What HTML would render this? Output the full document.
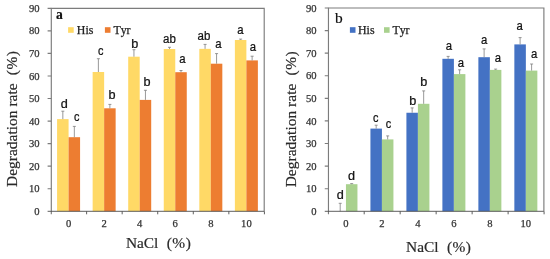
<!DOCTYPE html>
<html><head><meta charset="utf-8"><title>Degradation rate vs NaCl</title>
<style>
html,body{margin:0;padding:0;background:#fff}
svg{display:block}
text{font-kerning:none;stroke-linejoin:round}
.tk{font-family:"Liberation Serif","Noto Serif CJK SC",serif;font-size:10.6px;fill:#333;stroke:#333;stroke-width:.25px}
.lt{font-family:"Liberation Sans",sans-serif;fill:#111;stroke:#111;stroke-width:.24px}
.lg{font-family:"Liberation Serif","Noto Serif CJK SC",serif;font-size:11.9px;fill:#222;stroke:#222;stroke-width:.25px}
.pl{font-family:"Liberation Serif","Noto Serif CJK SC",serif;fill:#111;stroke:#111;stroke-width:.2px}
.xt{font-family:"Liberation Serif","Noto Serif CJK SC",serif;font-size:15.4px;fill:#2a2a2a;stroke:#2a2a2a;stroke-width:.2px}
</style></head><body>
<svg width="550" height="259" viewBox="0 0 550 259">
<rect width="550" height="259" fill="#fff"/>
<rect x="57.08" y="119.10" width="11.50" height="92.20" fill="#FFD966"/>
<path d="M62.83 119.10V111.20M61.33 111.20H64.33" stroke="#7f7f7f" stroke-width="0.8" fill="none"/>
<rect x="68.58" y="137.20" width="11.50" height="74.10" fill="#ED7D31"/>
<path d="M74.33 137.20V126.40M72.83 126.40H75.83" stroke="#7f7f7f" stroke-width="0.8" fill="none"/>
<rect x="92.64" y="72.00" width="11.50" height="139.30" fill="#FFD966"/>
<path d="M98.39 72.00V58.70M96.89 58.70H99.89" stroke="#7f7f7f" stroke-width="0.8" fill="none"/>
<rect x="104.14" y="108.30" width="11.50" height="103.00" fill="#ED7D31"/>
<path d="M109.89 108.30V104.40M108.39 104.40H111.39" stroke="#7f7f7f" stroke-width="0.8" fill="none"/>
<rect x="128.20" y="56.70" width="11.50" height="154.60" fill="#FFD966"/>
<path d="M133.95 56.70V49.70M132.45 49.70H135.45" stroke="#7f7f7f" stroke-width="0.8" fill="none"/>
<rect x="139.70" y="99.90" width="11.50" height="111.40" fill="#ED7D31"/>
<path d="M145.45 99.90V90.30M143.95 90.30H146.95" stroke="#7f7f7f" stroke-width="0.8" fill="none"/>
<rect x="163.76" y="49.00" width="11.50" height="162.30" fill="#FFD966"/>
<path d="M169.51 49.00V47.30M168.01 47.30H171.01" stroke="#7f7f7f" stroke-width="0.8" fill="none"/>
<rect x="175.26" y="72.20" width="11.50" height="139.10" fill="#ED7D31"/>
<path d="M181.01 72.20V70.50M179.51 70.50H182.51" stroke="#7f7f7f" stroke-width="0.8" fill="none"/>
<rect x="199.32" y="48.85" width="11.50" height="162.45" fill="#FFD966"/>
<path d="M205.07 48.85V44.40M203.57 44.40H206.57" stroke="#7f7f7f" stroke-width="0.8" fill="none"/>
<rect x="210.82" y="63.70" width="11.50" height="147.60" fill="#ED7D31"/>
<path d="M216.57 63.70V53.60M215.07 53.60H218.07" stroke="#7f7f7f" stroke-width="0.8" fill="none"/>
<rect x="234.88" y="40.00" width="11.50" height="171.30" fill="#FFD966"/>
<path d="M240.63 40.00V39.10M239.13 39.10H242.13" stroke="#7f7f7f" stroke-width="0.8" fill="none"/>
<rect x="246.38" y="60.40" width="11.50" height="150.90" fill="#ED7D31"/>
<path d="M252.13 60.40V56.20M250.63 56.20H253.63" stroke="#7f7f7f" stroke-width="0.8" fill="none"/>
<path d="M51.30 214.30V8.30H264.21V211.30" stroke="#7c7c7c" stroke-width="1.15" fill="none"/>
<path d="M47.60 188.74H51.30M47.60 166.19H51.30M47.60 143.63H51.30M47.60 121.08H51.30M47.60 98.52H51.30M47.60 75.97H51.30M47.60 53.41H51.30M47.60 30.86H51.30M47.60 8.30H51.30" stroke="#7c7c7c" stroke-width="1.15" fill="none"/>
<path d="M47.60 211.30H264.21M86.61 211.30V214.30M122.17 211.30V214.30M157.73 211.30V214.30M193.29 211.30V214.30M228.85 211.30V214.30M264.41 211.30V214.30" stroke="#4d4d4d" stroke-width="0.9" fill="none"/>
<text x="39.50" y="214.90" text-anchor="end" class="tk">0</text>
<text x="39.50" y="192.34" text-anchor="end" class="tk">10</text>
<text x="39.50" y="169.79" text-anchor="end" class="tk">20</text>
<text x="39.50" y="147.23" text-anchor="end" class="tk">30</text>
<text x="39.50" y="124.68" text-anchor="end" class="tk">40</text>
<text x="39.50" y="102.12" text-anchor="end" class="tk">50</text>
<text x="39.50" y="79.57" text-anchor="end" class="tk">60</text>
<text x="39.50" y="57.01" text-anchor="end" class="tk">70</text>
<text x="39.50" y="34.46" text-anchor="end" class="tk">80</text>
<text x="39.50" y="11.90" text-anchor="end" class="tk">90</text>
<text x="68.58" y="227.3" text-anchor="middle" class="tk">0</text>
<text x="104.14" y="227.3" text-anchor="middle" class="tk">2</text>
<text x="139.70" y="227.3" text-anchor="middle" class="tk">4</text>
<text x="175.26" y="227.3" text-anchor="middle" class="tk">6</text>
<text x="210.82" y="227.3" text-anchor="middle" class="tk">8</text>
<text x="246.38" y="227.3" text-anchor="middle" class="tk">10</text>
<text transform="translate(64.30,107.80) scale(1.02,1)" text-anchor="middle" class="lt" font-size="12.4">d</text>
<text transform="translate(76.60,121.30) scale(0.9,1)" text-anchor="middle" class="lt" font-size="12.1">c</text>
<text transform="translate(100.60,54.60) scale(0.9,1)" text-anchor="middle" class="lt" font-size="12.1">c</text>
<text transform="translate(112.10,98.60) scale(1.02,1)" text-anchor="middle" class="lt" font-size="12.4">b</text>
<text transform="translate(134.70,47.60) scale(1.02,1)" text-anchor="middle" class="lt" font-size="12.4">b</text>
<text transform="translate(147.10,86.40) scale(1.02,1)" text-anchor="middle" class="lt" font-size="12.4">b</text>
<text transform="translate(169.50,42.50) scale(0.92,1)" text-anchor="middle" class="lt" font-size="12.5">ab</text>
<text transform="translate(182.40,63.30) scale(0.9,1)" text-anchor="middle" class="lt" font-size="12.6">a</text>
<text transform="translate(203.90,40.00) scale(0.92,1)" text-anchor="middle" class="lt" font-size="12.5">ab</text>
<text transform="translate(218.50,47.70) scale(0.9,1)" text-anchor="middle" class="lt" font-size="12.6">a</text>
<text transform="translate(240.50,34.40) scale(0.9,1)" text-anchor="middle" class="lt" font-size="12.6">a</text>
<text transform="translate(252.80,51.30) scale(0.9,1)" text-anchor="middle" class="lt" font-size="12.6">a</text>
<text x="56" y="19" font-weight="bold" font-size="13.6" class="pl">a</text>
<rect x="68.1" y="27.2" width="5.6" height="5.6" fill="#FFD966"/><text x="76.8" y="33.55" class="lg">His</text>
<rect x="104.9" y="27.2" width="5.6" height="5.6" fill="#ED7D31"/><text x="113.4" y="33.55" class="lg">Tyr</text>
<path d="M340.20 211.30V203.30M338.70 203.30H341.70" stroke="#7f7f7f" stroke-width="0.8" fill="none"/>
<rect x="345.95" y="184.20" width="11.50" height="27.10" fill="#A9D18E"/>
<path d="M351.70 184.20V183.60M350.20 183.60H353.20" stroke="#7f7f7f" stroke-width="0.8" fill="none"/>
<rect x="370.43" y="128.60" width="11.50" height="82.70" fill="#4472C4"/>
<path d="M376.18 128.60V125.20M374.68 125.20H377.68" stroke="#7f7f7f" stroke-width="0.8" fill="none"/>
<rect x="381.93" y="139.40" width="11.50" height="71.90" fill="#A9D18E"/>
<path d="M387.68 139.40V135.90M386.18 135.90H389.18" stroke="#7f7f7f" stroke-width="0.8" fill="none"/>
<rect x="406.41" y="112.75" width="11.50" height="98.55" fill="#4472C4"/>
<path d="M412.16 112.75V107.90M410.66 107.90H413.66" stroke="#7f7f7f" stroke-width="0.8" fill="none"/>
<rect x="417.91" y="103.80" width="11.50" height="107.50" fill="#A9D18E"/>
<path d="M423.66 103.80V90.90M422.16 90.90H425.16" stroke="#7f7f7f" stroke-width="0.8" fill="none"/>
<rect x="442.39" y="58.80" width="11.50" height="152.50" fill="#4472C4"/>
<path d="M448.14 58.80V56.40M446.64 56.40H449.64" stroke="#7f7f7f" stroke-width="0.8" fill="none"/>
<rect x="453.89" y="74.10" width="11.50" height="137.20" fill="#A9D18E"/>
<path d="M459.64 74.10V69.80M458.14 69.80H461.14" stroke="#7f7f7f" stroke-width="0.8" fill="none"/>
<rect x="478.37" y="57.20" width="11.50" height="154.10" fill="#4472C4"/>
<path d="M484.12 57.20V48.90M482.62 48.90H485.62" stroke="#7f7f7f" stroke-width="0.8" fill="none"/>
<rect x="489.87" y="69.90" width="11.50" height="141.40" fill="#A9D18E"/>
<path d="M495.62 69.90V69.10M494.12 69.10H497.12" stroke="#7f7f7f" stroke-width="0.8" fill="none"/>
<rect x="514.35" y="44.40" width="11.50" height="166.90" fill="#4472C4"/>
<path d="M520.10 44.40V37.60M518.60 37.60H521.60" stroke="#7f7f7f" stroke-width="0.8" fill="none"/>
<rect x="525.85" y="70.60" width="11.50" height="140.70" fill="#A9D18E"/>
<path d="M531.60 70.60V64.00M530.10 64.00H533.10" stroke="#7f7f7f" stroke-width="0.8" fill="none"/>
<path d="M328.46 214.30V8.00H543.89V211.30" stroke="#7c7c7c" stroke-width="1.15" fill="none"/>
<path d="M324.76 188.71H328.46M324.76 166.12H328.46M324.76 143.53H328.46M324.76 120.94H328.46M324.76 98.36H328.46M324.76 75.77H328.46M324.76 53.18H328.46M324.76 30.59H328.46M324.76 8.00H328.46" stroke="#7c7c7c" stroke-width="1.15" fill="none"/>
<path d="M324.76 211.30H543.89M364.19 211.30V214.30M400.17 211.30V214.30M436.15 211.30V214.30M472.13 211.30V214.30M508.11 211.30V214.30M544.09 211.30V214.30" stroke="#4d4d4d" stroke-width="0.9" fill="none"/>
<text x="316.66" y="214.90" text-anchor="end" class="tk">0</text>
<text x="316.66" y="192.31" text-anchor="end" class="tk">10</text>
<text x="316.66" y="169.72" text-anchor="end" class="tk">20</text>
<text x="316.66" y="147.13" text-anchor="end" class="tk">30</text>
<text x="316.66" y="124.54" text-anchor="end" class="tk">40</text>
<text x="316.66" y="101.96" text-anchor="end" class="tk">50</text>
<text x="316.66" y="79.37" text-anchor="end" class="tk">60</text>
<text x="316.66" y="56.78" text-anchor="end" class="tk">70</text>
<text x="316.66" y="34.19" text-anchor="end" class="tk">80</text>
<text x="316.66" y="11.60" text-anchor="end" class="tk">90</text>
<text x="345.95" y="227.3" text-anchor="middle" class="tk">0</text>
<text x="381.93" y="227.3" text-anchor="middle" class="tk">2</text>
<text x="417.91" y="227.3" text-anchor="middle" class="tk">4</text>
<text x="453.89" y="227.3" text-anchor="middle" class="tk">6</text>
<text x="489.87" y="227.3" text-anchor="middle" class="tk">8</text>
<text x="525.85" y="227.3" text-anchor="middle" class="tk">10</text>
<text transform="translate(340.30,198.50) scale(1.02,1)" text-anchor="middle" class="lt" font-size="12.4">d</text>
<text transform="translate(351.50,180.40) scale(1.02,1)" text-anchor="middle" class="lt" font-size="12.4">d</text>
<text transform="translate(375.80,121.90) scale(0.9,1)" text-anchor="middle" class="lt" font-size="12.1">c</text>
<text transform="translate(388.40,128.10) scale(0.9,1)" text-anchor="middle" class="lt" font-size="12.1">c</text>
<text transform="translate(412.70,104.90) scale(1.02,1)" text-anchor="middle" class="lt" font-size="12.4">b</text>
<text transform="translate(423.80,85.90) scale(1.02,1)" text-anchor="middle" class="lt" font-size="12.4">b</text>
<text transform="translate(448.90,50.00) scale(0.9,1)" text-anchor="middle" class="lt" font-size="12.6">a</text>
<text transform="translate(461.00,66.60) scale(0.9,1)" text-anchor="middle" class="lt" font-size="12.6">a</text>
<text transform="translate(484.10,43.90) scale(0.9,1)" text-anchor="middle" class="lt" font-size="12.6">a</text>
<text transform="translate(497.90,61.50) scale(0.9,1)" text-anchor="middle" class="lt" font-size="12.6">a</text>
<text transform="translate(519.70,29.80) scale(0.9,1)" text-anchor="middle" class="lt" font-size="12.6">a</text>
<text transform="translate(534.20,57.80) scale(0.9,1)" text-anchor="middle" class="lt" font-size="12.6">a</text>
<text x="335" y="23" font-size="15.4" class="pl">b</text>
<rect x="349.9" y="27.2" width="5.6" height="5.6" fill="#4472C4"/><text x="358" y="33.55" class="lg">His</text>
<rect x="384" y="27.2" width="5.6" height="5.6" fill="#A9D18E"/><text x="392.4" y="33.55" class="lg">Tyr</text>
<text x="125.9" y="248.1" class="xt">NaCl<tspan dx="8.3" letter-spacing="0.5">(%)</tspan></text>
<text x="406.1" y="251.5" class="xt">NaCl<tspan dx="8.3" letter-spacing="0.5">(%)</tspan></text>
<text transform="translate(16.6,187) rotate(-90)" class="xt" letter-spacing="0.04">Degradation rate<tspan dx="8.2" letter-spacing="0.5">(%)</tspan></text>
<text transform="translate(295.9,187.3) rotate(-90)" class="xt" letter-spacing="0.04">Degradation rate<tspan dx="8.2" letter-spacing="0.5">(%)</tspan></text>
</svg>
</body></html>
